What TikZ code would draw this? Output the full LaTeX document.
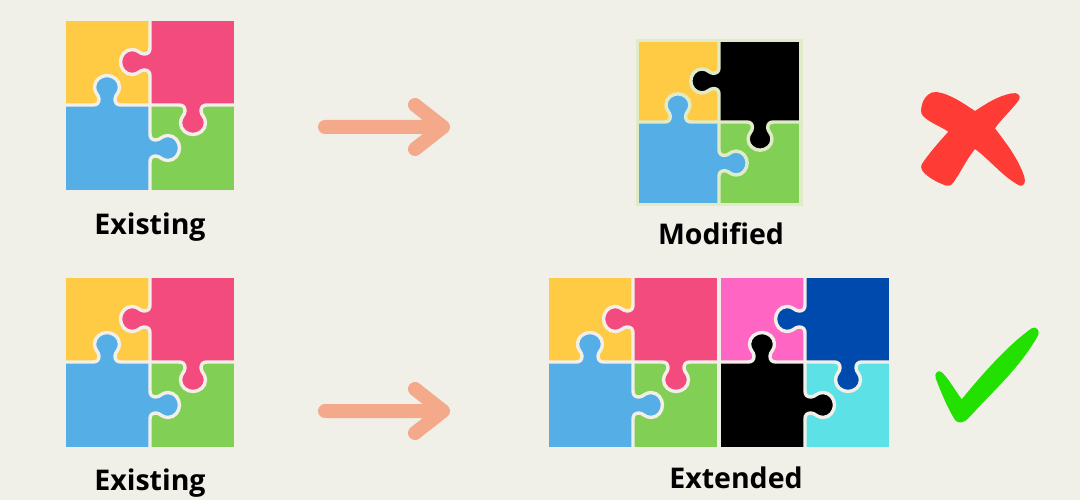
\documentclass[tikz,border=0pt]{standalone}
\usepackage{fontspec}
\setmainfont{Open Sans}
\usetikzlibrary{calc}

\definecolor{paper}{HTML}{F0EFE8}
\definecolor{gapline}{HTML}{F1EFE7}
\definecolor{gapgreen}{HTML}{E0EBC8}
\definecolor{pieceyellow}{HTML}{FFCB45}
\definecolor{piecerose}{HTML}{F44B7F}
\definecolor{pieceblue}{HTML}{55AEE6}
\definecolor{piecegreen}{HTML}{82CF55}
\definecolor{piecepink}{HTML}{FF66C4}
\definecolor{piecenavy}{HTML}{004AAD}
\definecolor{piececyan}{HTML}{5CE1E6}
\definecolor{arrowsalmon}{HTML}{F4A98A}
\definecolor{crossred}{HTML}{FF3B35}
\definecolor{checkgreen}{HTML}{22E100}

\tikzset{
	caption/.style={font=\bfseries\fontsize{28.5}{28.5}\selectfont, text=black, inner sep=0pt},
	pushline/.style={draw=arrowsalmon, line width=14pt, line cap=round, line join=round},
}

% one arm of the cut: from the outer edge to the centre, with its tab
\newcommand{\tabarm}[3]{
	\begin{scope}[x={#2}, y={#3}]
		\filldraw[fill=#1, draw=\gapcol, line width=3.4pt] (85,0) -- (57,0) .. controls (53,0) and (51,2) .. (51,6)
			.. controls (51,10) and (55.5,12) .. (55.5,18) .. controls (55.5,25) and (49,29.5) .. (43,29.5)
			.. controls (37,29.5) and (30.5,25) .. (30.5,18) .. controls (30.5,12) and (35,10) .. (35,6)
			.. controls (35,2) and (33,0) .. (29,0) -- (0,0);
	\end{scope}
}

% centre, scale, then the pieces: top left, top right, bottom left, bottom right
\newcommand{\puzzle}[6]{
	\begin{scope}[shift={#1}, scale=#2]
		\fill[#3] (-84,-84) rectangle (0,0);
		\fill[#4] (0,-84) rectangle (84,0);
		\fill[#5] (-84,0) rectangle (0,85);
		\fill[#6] (0,0) rectangle (84,85);
		\tabarm{#4}{(0pt,1pt)}{(-1pt,0pt)}
		\tabarm{#5}{(-1pt,0pt)}{(0pt,1pt)}
		\tabarm{#4}{(1pt,0pt)}{(0pt,-1pt)}
		\tabarm{#5}{(0pt,-1pt)}{(1pt,0pt)}
	\end{scope}
}

\begin{document}
\begin{tikzpicture}[x=1pt, y=-1pt]
	\fill[paper] (0,0) rectangle (1080,500);
	\useasboundingbox (0,0) rectangle (1080,500);
	\def\gapcol{gapline}

	% left column
	\puzzle{(150,105)}{1}{pieceyellow}{piecerose}{pieceblue}{piecegreen}
	\puzzle{(150,362)}{1}{pieceyellow}{piecerose}{pieceblue}{piecegreen}
	\node[caption] (existingtop) at (150,227) {Existing};
	\node[caption] (existingbottom) at (150,483) {Existing};

	% arrows
	\coordinate (arrowtopstart) at (325,127);
	\coordinate (arrowtopend) at (443,127);
	\coordinate (arrowbottomstart) at (325,411);
	\coordinate (arrowbottomend) at (443,411);
	\draw[pushline] (arrowtopstart) -- (arrowtopend) ++(-28,-22) -- (arrowtopend) -- ++(-28,22);
	\draw[pushline] (arrowbottomstart) -- (arrowbottomend) ++(-28,-22) -- (arrowbottomend) -- ++(-28,22);

	% changed puzzle
	\draw[gapgreen, line width=3.4pt] (637.5,41) rectangle (801,204.5);
	\def\gapcol{gapgreen}
	\puzzle{(719,122)}{0.955}{pieceyellow}{black}{pieceblue}{piecegreen}
	\node[caption] (modified) at (721,234) {Modified};

	% grown puzzle
	\def\gapcol{gapline}
	\puzzle{(633,362)}{1}{pieceyellow}{piecerose}{pieceblue}{piecegreen}
	\puzzle{(805,362)}{1}{piecepink}{piecenavy}{black}{piececyan}
	\node[caption] (extended) at (736,478) {Extended};

	% marks
	\fill[crossred] (936.7,92) .. controls (950,94) and (963,103) .. (975,111)
		.. controls (987,103) and (998,96) .. (1011.7,93.3) .. controls (1018,92) and (1021,96) .. (1019.3,99.3)
		.. controls (1012,110) and (1002,118) .. (995,128.3) .. controls (1006,143) and (1018,158) .. (1024.3,176.7)
		.. controls (1026,183) and (1024,186) .. (1020,185.7) .. controls (1004,178) and (990,160) .. (975,149)
		.. controls (966,160) and (961,172) .. (953,183) .. controls (950,187) and (946,186) .. (942,184)
		.. controls (934,181) and (925,175) .. (922,170) .. controls (920,166) and (922,164) .. (924,161)
		.. controls (931,151) and (940,141) .. (948.3,131.7) .. controls (940,126) and (930,123) .. (923,116)
		.. controls (920,113) and (921,108) .. (922.5,103) .. controls (925,96) and (930,91.5) .. (936.7,92) -- cycle;
	\fill[checkgreen] (1031.7,328.3) .. controls (1036,326) and (1040,330) .. (1038.3,335)
		.. controls (1020,368) and (992,392) .. (968.3,418.3) .. controls (964,423) and (958,424) .. (955,420)
		.. controls (947,407) and (941,392) .. (935.7,378.3) .. controls (934,373) and (938,370) .. (941,371.7)
		.. controls (946,375) and (955,390) .. (961.7,399.3) .. controls (975,383) and (1005,347) .. (1031.7,328.3) -- cycle;
\end{tikzpicture}
\end{document}
